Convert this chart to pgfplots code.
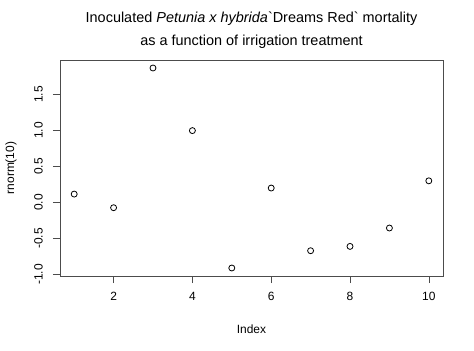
\documentclass[border=0pt]{standalone}
\usepackage{pgfplots}
\pgfplotsset{compat=1.18}
\usepackage{fontspec}
\setmainfont{Liberation Sans}[Ligatures=TeXOff]
\begin{document}
\begin{tikzpicture}
\path[use as bounding box] (-60bp,-75bp) rectangle (414bp,276bp);
\begin{axis}[
  at={(0,0)}, anchor=south west,
  scale only axis, width=383bp, height=216bp,
  xmin=0.64, xmax=10.36, ymin=-1.021, ymax=1.977,
  xtick={2,4,6,8,10}, ytick={-1,-0.5,0,0.5,1,1.5},
  /pgf/number format/assume math mode=true,
  yticklabel style={/pgf/number format/fixed, /pgf/number format/fixed zerofill, /pgf/number format/precision=1, xshift=-10bp, rotate=90, anchor=south, inner sep=0pt},
  xticklabel style={anchor=north, inner sep=0pt, yshift=-9bp},
  tick align=outside, tick pos=left,
  major tick length=7bp,
  tick style={black!70, line width=0.6bp},
  axis line style={black!70, line width=0.75bp},
  ticklabel style={font=\fontsize{12}{14}\selectfont},
  xlabel={Index}, ylabel={rnorm(10)},
  label style={font=\fontsize{12}{14}\selectfont},
  xlabel style={at={(rel axis cs:0.5,-0.245)}, anchor=center},
  ylabel style={at={(rel axis cs:-0.128,0.5)}, anchor=center},
  title={Inoculated \textit{Petunia x hybrida}`Dreams Red` mortality\\as a function of irrigation treatment},
  title style={at={(rel axis cs:0.5,1.023)}, anchor=south, inner sep=0pt, align=center, font=\fontsize{14.5}{23.5}\selectfont},
]
\addplot[only marks, mark=o, mark size=3bp, mark options={line width=0.8bp, black}] coordinates {
(1,0.116) (2,-0.073) (3,1.866) (4,0.997) (5,-0.91) (6,0.20) (7,-0.67) (8,-0.61) (9,-0.355) (10,0.30)
};
\end{axis}
\end{tikzpicture}
\end{document}
